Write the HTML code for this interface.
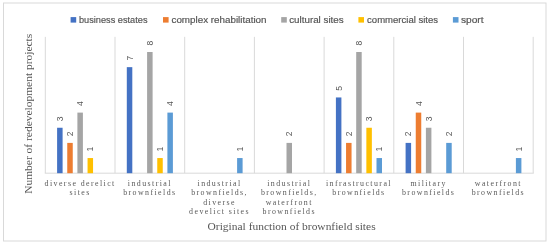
<!DOCTYPE html>
<html><head><meta charset="utf-8"><style>
html,body{margin:0;padding:0;background:#fff;}
svg{display:block;}
.lg{font-family:"Liberation Sans",sans-serif;font-size:9.4px;fill:#555555;stroke:#555555;stroke-width:0.18px;}
.dl{font-family:"Liberation Sans",sans-serif;font-size:8.6px;fill:#595959;}
.cl{font-family:"Liberation Serif",serif;font-size:7.9px;fill:#595959;letter-spacing:1.42px;}
.at{font-family:"Liberation Serif",serif;font-size:11.4px;fill:#555555;}
</style></head><body>
<svg width="550" height="245" viewBox="0 0 550 245">
<rect x="3.5" y="3" width="542.5" height="238" fill="#fff" stroke="#D9D9D9" stroke-width="1"/>
<line x1="45.30" y1="36.85" x2="45.30" y2="173.20" stroke="#D9D9D9" stroke-width="1"/>
<line x1="115.00" y1="36.85" x2="115.00" y2="173.20" stroke="#D9D9D9" stroke-width="1"/>
<line x1="184.70" y1="36.85" x2="184.70" y2="173.20" stroke="#D9D9D9" stroke-width="1"/>
<line x1="254.40" y1="36.85" x2="254.40" y2="173.20" stroke="#D9D9D9" stroke-width="1"/>
<line x1="324.10" y1="36.85" x2="324.10" y2="173.20" stroke="#D9D9D9" stroke-width="1"/>
<line x1="393.80" y1="36.85" x2="393.80" y2="173.20" stroke="#D9D9D9" stroke-width="1"/>
<line x1="463.50" y1="36.85" x2="463.50" y2="173.20" stroke="#D9D9D9" stroke-width="1"/>
<line x1="533.20" y1="36.85" x2="533.20" y2="173.20" stroke="#D9D9D9" stroke-width="1"/>
<line x1="44.80" y1="173.2" x2="533.70" y2="173.2" stroke="#D9D9D9" stroke-width="1"/>
<rect x="57.10" y="127.75" width="5.5" height="45.45" fill="#4472C4"/>
<text class="dl" x="62.95" y="121.15" transform="rotate(-90 62.95 121.15)">3</text>
<rect x="67.25" y="142.90" width="5.5" height="30.30" fill="#ED7D31"/>
<text class="dl" x="73.10" y="136.30" transform="rotate(-90 73.10 136.30)">2</text>
<rect x="77.40" y="112.60" width="5.5" height="60.60" fill="#A5A5A5"/>
<text class="dl" x="83.25" y="106.00" transform="rotate(-90 83.25 106.00)">4</text>
<rect x="87.55" y="158.05" width="5.5" height="15.15" fill="#FFC000"/>
<text class="dl" x="93.40" y="151.45" transform="rotate(-90 93.40 151.45)">1</text>
<rect x="126.80" y="67.15" width="5.5" height="106.05" fill="#4472C4"/>
<text class="dl" x="132.65" y="60.55" transform="rotate(-90 132.65 60.55)">7</text>
<rect x="147.10" y="52.00" width="5.5" height="121.20" fill="#A5A5A5"/>
<text class="dl" x="152.95" y="45.40" transform="rotate(-90 152.95 45.40)">8</text>
<rect x="157.25" y="158.05" width="5.5" height="15.15" fill="#FFC000"/>
<text class="dl" x="163.10" y="151.45" transform="rotate(-90 163.10 151.45)">1</text>
<rect x="167.40" y="112.60" width="5.5" height="60.60" fill="#5B9BD5"/>
<text class="dl" x="173.25" y="106.00" transform="rotate(-90 173.25 106.00)">4</text>
<rect x="237.10" y="158.05" width="5.5" height="15.15" fill="#5B9BD5"/>
<text class="dl" x="242.95" y="151.45" transform="rotate(-90 242.95 151.45)">1</text>
<rect x="286.50" y="142.90" width="5.5" height="30.30" fill="#A5A5A5"/>
<text class="dl" x="292.35" y="136.30" transform="rotate(-90 292.35 136.30)">2</text>
<rect x="335.90" y="97.45" width="5.5" height="75.75" fill="#4472C4"/>
<text class="dl" x="341.75" y="90.85" transform="rotate(-90 341.75 90.85)">5</text>
<rect x="346.05" y="142.90" width="5.5" height="30.30" fill="#ED7D31"/>
<text class="dl" x="351.90" y="136.30" transform="rotate(-90 351.90 136.30)">2</text>
<rect x="356.20" y="52.00" width="5.5" height="121.20" fill="#A5A5A5"/>
<text class="dl" x="362.05" y="45.40" transform="rotate(-90 362.05 45.40)">8</text>
<rect x="366.35" y="127.75" width="5.5" height="45.45" fill="#FFC000"/>
<text class="dl" x="372.20" y="121.15" transform="rotate(-90 372.20 121.15)">3</text>
<rect x="376.50" y="158.05" width="5.5" height="15.15" fill="#5B9BD5"/>
<text class="dl" x="382.35" y="151.45" transform="rotate(-90 382.35 151.45)">1</text>
<rect x="405.60" y="142.90" width="5.5" height="30.30" fill="#4472C4"/>
<text class="dl" x="411.45" y="136.30" transform="rotate(-90 411.45 136.30)">2</text>
<rect x="415.75" y="112.60" width="5.5" height="60.60" fill="#ED7D31"/>
<text class="dl" x="421.60" y="106.00" transform="rotate(-90 421.60 106.00)">4</text>
<rect x="425.90" y="127.75" width="5.5" height="45.45" fill="#A5A5A5"/>
<text class="dl" x="431.75" y="121.15" transform="rotate(-90 431.75 121.15)">3</text>
<rect x="446.20" y="142.90" width="5.5" height="30.30" fill="#5B9BD5"/>
<text class="dl" x="452.05" y="136.30" transform="rotate(-90 452.05 136.30)">2</text>
<rect x="515.90" y="158.05" width="5.5" height="15.15" fill="#5B9BD5"/>
<text class="dl" x="521.75" y="151.45" transform="rotate(-90 521.75 151.45)">1</text>
<text class="cl" x="80.15" y="186.20" text-anchor="middle">diverse derelict</text>
<text class="cl" x="80.15" y="195.40" text-anchor="middle">sites</text>
<text class="cl" x="149.85" y="186.20" text-anchor="middle">industrial</text>
<text class="cl" x="149.85" y="195.40" text-anchor="middle">brownfields</text>
<text class="cl" x="219.55" y="186.20" text-anchor="middle">industrial</text>
<text class="cl" x="219.55" y="195.40" text-anchor="middle">brownfields,</text>
<text class="cl" x="219.55" y="204.60" text-anchor="middle">diverse</text>
<text class="cl" x="219.55" y="213.80" text-anchor="middle">develict sites</text>
<text class="cl" x="289.25" y="186.20" text-anchor="middle">industrial</text>
<text class="cl" x="289.25" y="195.40" text-anchor="middle">brownfields,</text>
<text class="cl" x="289.25" y="204.60" text-anchor="middle">waterfront</text>
<text class="cl" x="289.25" y="213.80" text-anchor="middle">brownfields</text>
<text class="cl" x="358.95" y="186.20" text-anchor="middle">infrastructural</text>
<text class="cl" x="358.95" y="195.40" text-anchor="middle">brownfields</text>
<text class="cl" x="428.65" y="186.20" text-anchor="middle">military</text>
<text class="cl" x="428.65" y="195.40" text-anchor="middle">brownfields</text>
<text class="cl" x="498.35" y="186.20" text-anchor="middle">waterfront</text>
<text class="cl" x="498.35" y="195.40" text-anchor="middle">brownfields</text>
<text class="at" x="207.6" y="229.8" textLength="168" lengthAdjust="spacingAndGlyphs">Original function of brownfield sites</text>
<text class="at" x="0" y="0" transform="translate(32.0 193.8) rotate(-90)" textLength="160" lengthAdjust="spacingAndGlyphs">Number of redevelopment projects</text>
<rect x="70.6" y="17.1" width="5.6" height="5.5" fill="#4472C4"/>
<text class="lg" x="79" y="22.9" textLength="68.5" lengthAdjust="spacingAndGlyphs">business estates</text>
<rect x="163" y="17.1" width="5.6" height="5.5" fill="#ED7D31"/>
<text class="lg" x="171.5" y="22.9" textLength="95" lengthAdjust="spacingAndGlyphs">complex rehabilitation</text>
<rect x="281.2" y="17.1" width="5.6" height="5.5" fill="#A5A5A5"/>
<text class="lg" x="289.2" y="22.9" textLength="54.5" lengthAdjust="spacingAndGlyphs">cultural sites</text>
<rect x="358.4" y="17.1" width="5.6" height="5.5" fill="#FFC000"/>
<text class="lg" x="367.1" y="22.9" textLength="71" lengthAdjust="spacingAndGlyphs">commercial sites</text>
<rect x="452.9" y="17.1" width="5.6" height="5.5" fill="#5B9BD5"/>
<text class="lg" x="460.9" y="22.9" textLength="22.7" lengthAdjust="spacingAndGlyphs">sport</text>
</svg>
</body></html>
